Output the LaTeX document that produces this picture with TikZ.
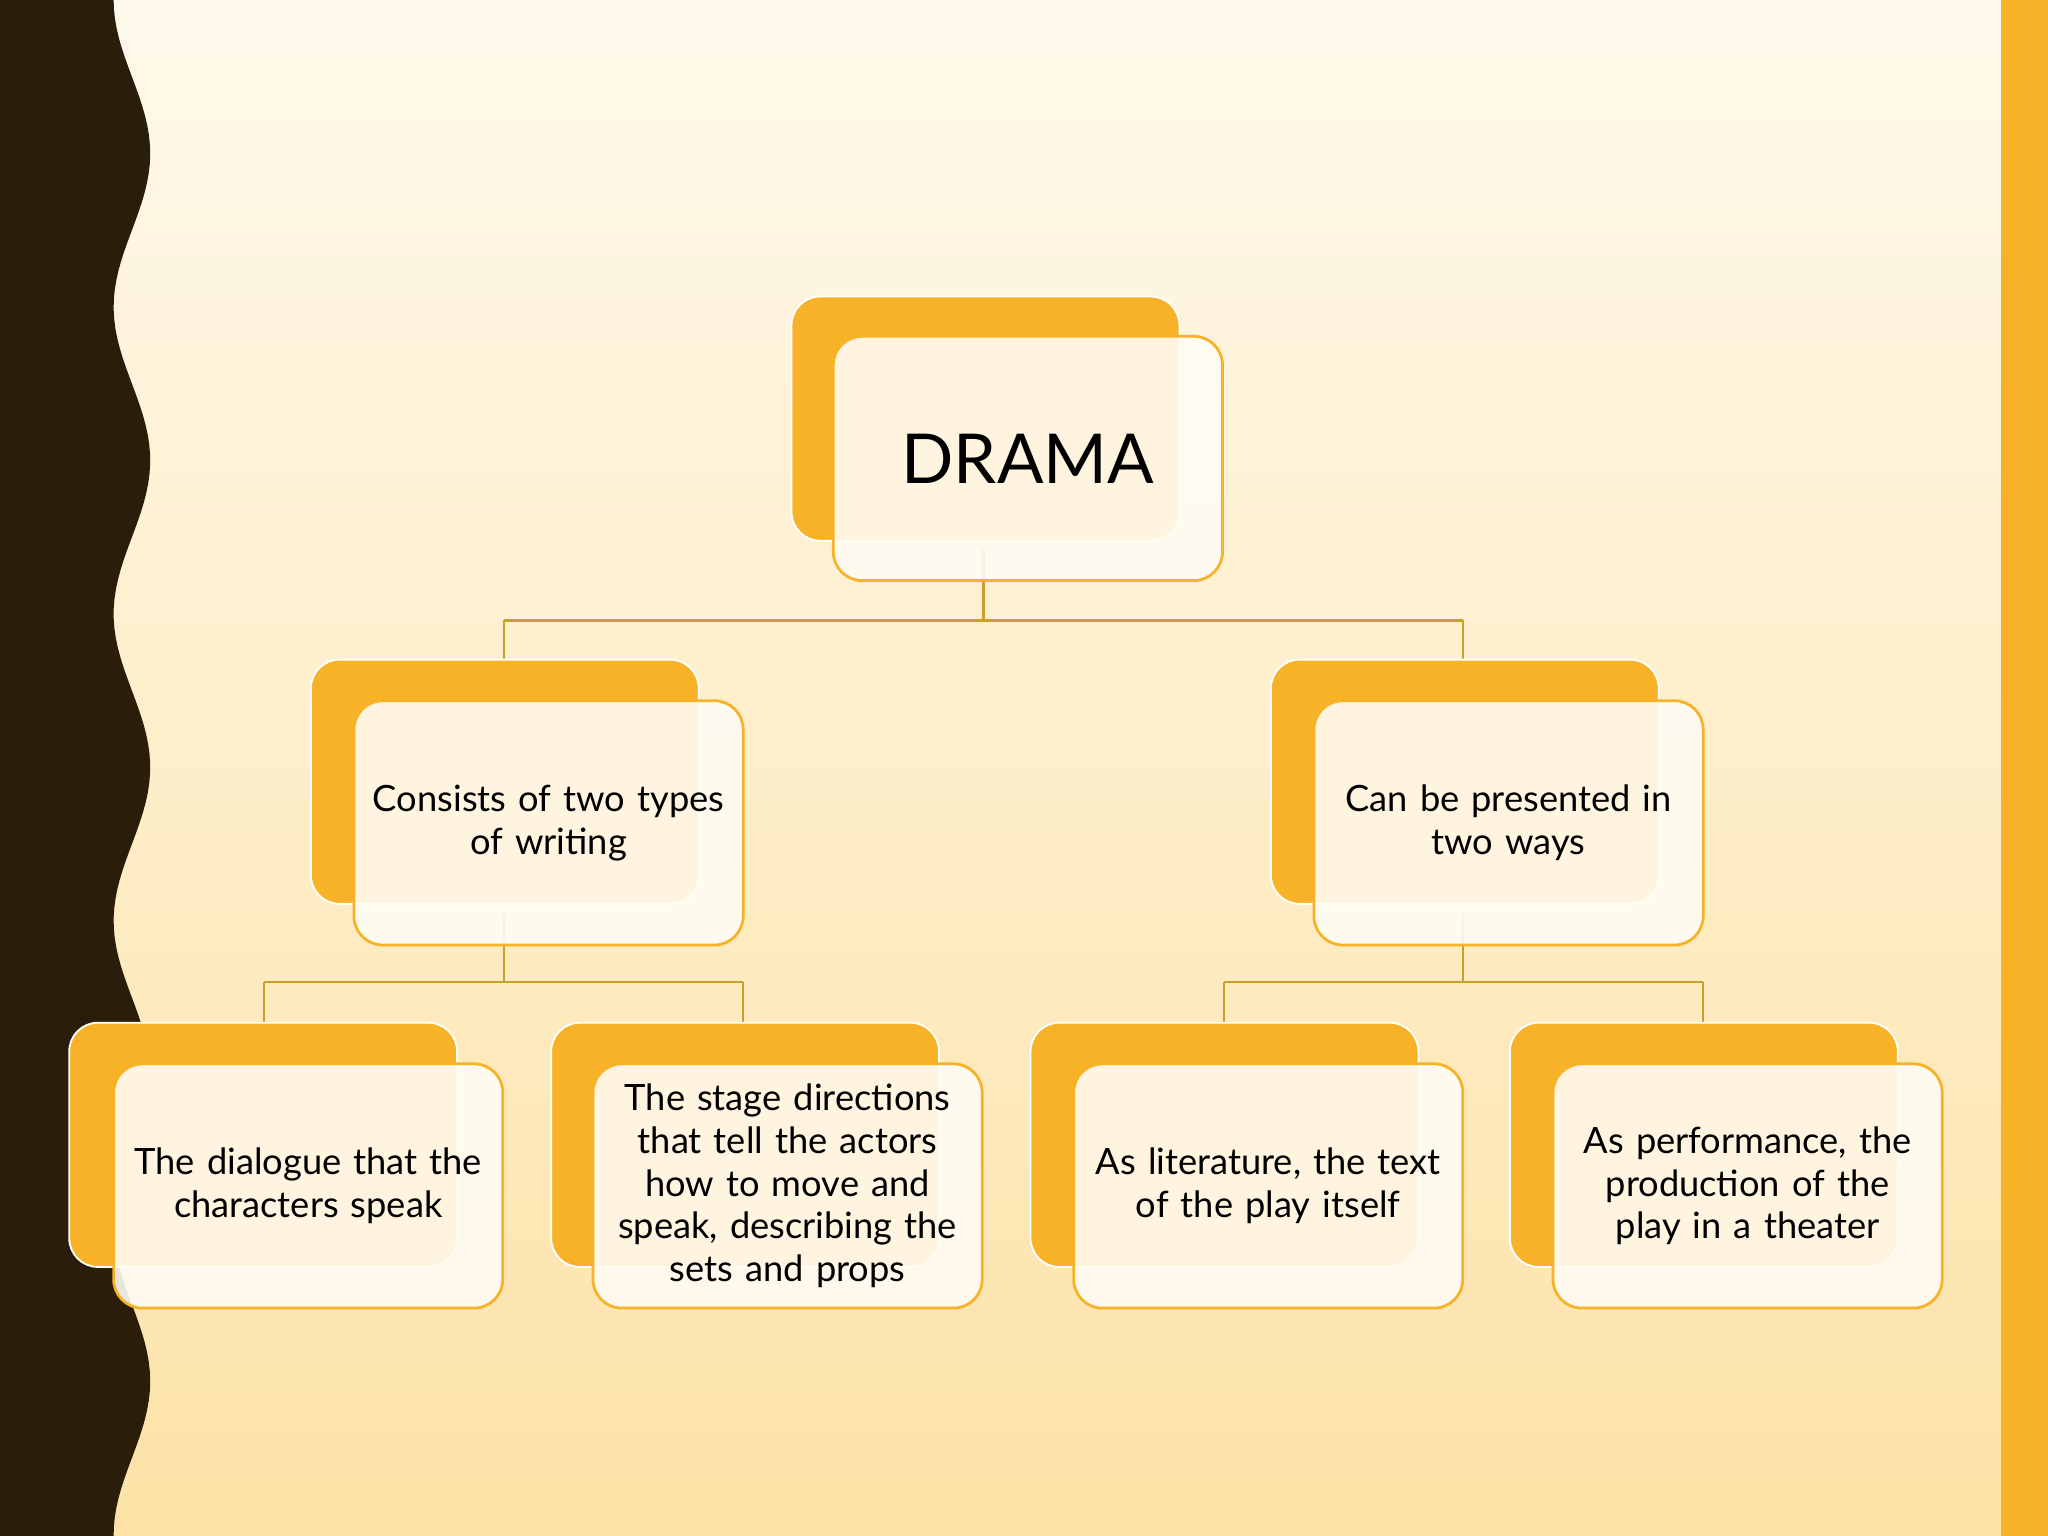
\documentclass[tikz,border=0pt]{standalone}
\usepackage{fontspec}
\setmainfont{Lato}
\definecolor{gold}{HTML}{F7B228}
\definecolor{linec}{HTML}{C9A02A}
\definecolor{brown}{HTML}{2A1D0A}
\definecolor{creamtop}{HTML}{FFF9EC}
\definecolor{creambot}{HTML}{FCE2A6}
\definecolor{boxfill}{HTML}{FFFCF3}
\begin{document}
\begin{tikzpicture}[x=0.1mm,y=-0.1mm,
  back/.style={fill=gold,draw=white,line width=0.4pt,rounded corners=2.2mm},
  front/.style={fill=boxfill,fill opacity=0.9,text opacity=1,draw=gold,line width=0.6pt,rounded corners=2.2mm,
     minimum width=29.8mm,minimum height=18.7mm,align=center,text width=29mm,font=\fontsize{7.9pt}{9.3pt}\selectfont,inner sep=0pt},
  conn/.style={draw=linec,line width=0.5pt}]
\useasboundingbox (0,0) rectangle (1568,1176);
\shade[top color=creamtop,bottom color=creambot] (0,0) rectangle (1568,1176);
\fill[gold] (1532,0) rectangle (1568,1176);
\fill[brown] (0,0) -- plot[domain=0:1176,samples=160] ({101-14*cos(1.5319*\x)},\x) -- (0,1176) -- cycle;
% coordinates for connectors
\coordinate (j0) at (753,475);
\coordinate (j0l) at (386,475); \coordinate (j0r) at (1120,475);
\coordinate (j1) at (386,752); \coordinate (j1l) at (202,752); \coordinate (j1r) at (569,752);
\coordinate (j2) at (1120,752); \coordinate (j2l) at (937,752); \coordinate (j2r) at (1304,752);
\draw[conn] (753,420) -- (j0) (j0l) -- (j0r) (j0l) -- (386,505) (j0r) -- (1120,505);
\draw[conn] (386,700) -- (j1) (j1l) -- (j1r) (j1l) -- (202,783) (j1r) -- (569,783);
\draw[conn] (1120,700) -- (j2) (j2l) -- (j2r) (j2l) -- (937,783) (j2r) -- (1304,783);
% back boxes
\foreach \x/\y in {606/227,238/505,973/505,53/783,422/783,789/783,1156/783}
  \draw[back] (\x,\y) rectangle ++(297,187);
% front boxes
\node[front,font=\fontsize{15pt}{18pt}\selectfont] (drama) at (787,351) {DRAMA};
\node[front] (c1) at (420,630) {Consists of two types\\ of writing};
\node[front] (c2) at (1155,630) {Can be presented in\\ two ways};
\node[front] (d1) at (236,908) {The dialogue that the\\ characters speak};
\node[front] (d2) at (603,908) {The stage directions\\ that tell the actors\\ how to move and\\ speak, describing the\\ sets and props};
\node[front] (d3) at (971,908) {As literature, the text\\ of the play itself};
\node[front] (d4) at (1338,908) {As performance, the\\ production of the\\ play in a theater};
\end{tikzpicture}
\end{document}
